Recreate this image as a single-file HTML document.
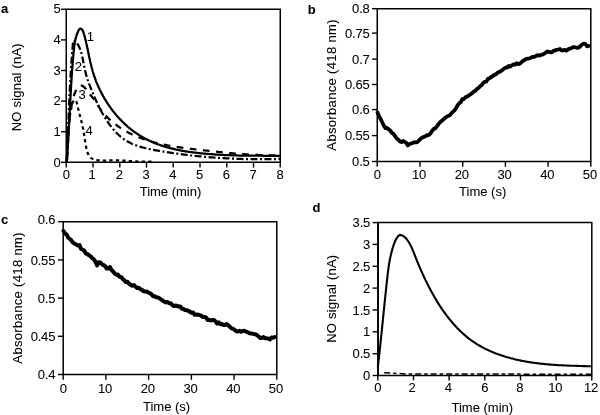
<!DOCTYPE html>
<html><head><meta charset="utf-8"><title>Figure</title>
<style>
html,body{margin:0;padding:0;background:#fff;}
svg{display:block;}
svg text{font-family:"Liberation Sans",sans-serif;font-size:13px;fill:#000;stroke:#000;stroke-width:0.07px;}
svg text.t{letter-spacing:-0.2px;}
</style></head>
<body>
<svg width="600" height="415" viewBox="0 0 600 415">
<rect width="600" height="415" fill="#fff"/>
<path d="M66.25 9.25 H280.25 V162.3 H66.25 Z" fill="none" stroke="#000" stroke-width="1.5"/>
<path d="M66.2 162.3 v5.3" stroke="#000" stroke-width="1.4"/>
<text x="66.2" y="178.8" text-anchor="middle" class="t">0</text>
<path d="M93.0 162.3 v5.3" stroke="#000" stroke-width="1.4"/>
<text x="92.1" y="178.8" text-anchor="middle" class="t">1</text>
<path d="M119.8 162.3 v5.3" stroke="#000" stroke-width="1.4"/>
<text x="119.3" y="178.8" text-anchor="middle" class="t">2</text>
<path d="M146.5 162.3 v5.3" stroke="#000" stroke-width="1.4"/>
<text x="146.1" y="178.8" text-anchor="middle" class="t">3</text>
<path d="M173.2 162.3 v5.3" stroke="#000" stroke-width="1.4"/>
<text x="172.8" y="178.8" text-anchor="middle" class="t">4</text>
<path d="M200.0 162.3 v5.3" stroke="#000" stroke-width="1.4"/>
<text x="199.6" y="178.8" text-anchor="middle" class="t">5</text>
<path d="M226.8 162.3 v5.3" stroke="#000" stroke-width="1.4"/>
<text x="226.3" y="178.8" text-anchor="middle" class="t">6</text>
<path d="M253.5 162.3 v5.3" stroke="#000" stroke-width="1.4"/>
<text x="253.1" y="178.8" text-anchor="middle" class="t">7</text>
<path d="M280.2 162.3 v5.3" stroke="#000" stroke-width="1.4"/>
<text x="279.9" y="178.8" text-anchor="middle" class="t">8</text>
<path d="M66.25 162.3 h-5.2" stroke="#000" stroke-width="1.4"/>
<text x="60.6" y="166.5" text-anchor="end" class="t">0</text>
<path d="M66.25 131.7 h-5.2" stroke="#000" stroke-width="1.4"/>
<text x="60.6" y="135.9" text-anchor="end" class="t">1</text>
<path d="M66.25 101.1 h-5.2" stroke="#000" stroke-width="1.4"/>
<text x="60.6" y="105.3" text-anchor="end" class="t">2</text>
<path d="M66.25 70.5 h-5.2" stroke="#000" stroke-width="1.4"/>
<text x="60.6" y="74.7" text-anchor="end" class="t">3</text>
<path d="M66.25 39.9 h-5.2" stroke="#000" stroke-width="1.4"/>
<text x="60.6" y="44.1" text-anchor="end" class="t">4</text>
<path d="M66.25 9.2 h-5.2" stroke="#000" stroke-width="1.4"/>
<text x="60.6" y="13.4" text-anchor="end" class="t">5</text>
<text x="170.5" y="196.3" text-anchor="middle" font-size="13" letter-spacing="0">Time (min)</text>
<text transform="translate(20.7 87.2) rotate(-90)" text-anchor="middle" font-size="13" letter-spacing="0.2">NO signal (nA)</text>
<path d="M66.8 161.5 L66.8 160.7 L66.9 159.9 L67.0 159.1 L67.0 158.3 L67.1 157.5 L67.1 156.6 L67.2 155.8 L67.3 155.0 L67.3 154.2 L67.4 153.4 L67.4 152.6 L67.5 151.8 L67.5 151.0 L67.6 150.2 L67.6 149.4 L67.7 148.6 L67.7 147.7 L67.8 146.9 L67.8 146.1 L67.9 145.3 L67.9 144.5 L68.0 143.7 L68.0 142.9 L68.1 142.1 L68.1 141.3 L68.2 140.5 L68.2 139.7 L68.3 138.8 L68.3 138.0 L68.4 137.2 L68.4 136.4 L68.5 135.6 L68.5 134.8 L68.6 134.0 L68.6 133.2 L68.6 132.4 L68.7 131.6 L68.7 130.7 L68.8 129.9 L68.8 129.1 L68.9 128.3 L68.9 127.5 L68.9 126.7 L69.0 125.9 L69.0 125.1 L69.1 124.3 L69.1 123.5 L69.2 122.6 L69.2 121.8 L69.2 121.0 L69.3 120.2 L69.3 119.4 L69.4 118.6 L69.4 117.8 L69.4 117.0 L69.5 116.2 L69.5 115.4 L69.6 114.5 L69.6 113.7 L69.7 112.9 L69.7 112.1 L69.7 111.3 L69.8 110.5 L69.8 109.7 L69.9 108.9 L69.9 108.1 L69.9 107.3 L70.0 106.5 L70.0 105.6 L70.1 104.8 L70.1 104.0 L70.1 103.2 L70.2 102.4 L70.2 101.6 L70.3 100.8 L70.3 100.0 L70.4 99.2 L70.4 98.4 L70.4 97.5 L70.5 96.7 L70.5 95.9 L70.6 95.1 L70.6 94.3 L70.7 93.5 L70.7 92.7 L70.8 91.9 L70.8 91.1 L70.9 90.3 L70.9 89.4 L70.9 88.6 L71.0 87.8 L71.0 87.0 L71.1 86.2 L71.1 85.4 L71.2 84.6 L71.2 83.8 L71.3 83.0 L71.3 82.2 L71.4 81.4 L71.4 80.5 L71.5 79.7 L71.5 78.9 L71.6 78.1 L71.6 77.3 L71.7 76.5 L71.8 75.7 L71.8 74.9 L71.9 74.1 L71.9 73.3 L72.0 72.5 L72.0 71.6 L72.1 70.8 L72.2 70.0 L72.2 69.2 L72.3 68.4 L72.3 67.6 L72.4 66.8 L72.5 66.0 L72.5 65.2 L72.6 64.4 L72.7 63.6 L72.7 62.8 L72.8 61.9 L72.8 61.1 L72.9 60.3 L73.0 59.5 L73.1 58.7 L73.1 57.9 L73.2 57.1 L73.3 56.3 L73.3 55.5 L73.4 54.7 L73.5 53.9 L73.6 53.1 L73.6 52.2 L73.7 51.4 L73.8 50.6 L73.9 49.8 L74.0 49.0 L74.0 48.2 L74.1 47.4 L74.2 46.6 L74.3 45.8 L74.4 45.0 L74.6 44.2 L74.7 43.4 L74.8 42.6 L75.0 41.8 L75.1 41.0 L75.3 40.2 L75.4 39.4 L75.6 38.6 L75.8 37.9 L76.0 37.1 L76.3 36.3 L76.5 35.5 L76.8 34.7 L77.1 34.0 L77.3 33.2 L77.7 32.4 L78.0 31.7 L78.3 30.9 L78.7 30.2 L79.1 29.5 L79.6 28.9 L80.2 28.6 L80.9 28.7 L81.7 29.1 L82.2 29.8 L82.7 30.5 L83.0 31.3 L83.3 32.0 L83.6 32.8 L83.8 33.6 L84.0 34.3 L84.3 35.1 L84.5 35.9 L84.7 36.6 L84.9 37.4 L85.1 38.2 L85.3 39.0 L85.5 39.8 L85.7 40.6 L85.9 41.4 L86.1 42.1 L86.2 42.9 L86.4 43.7 L86.6 44.5 L86.8 45.3 L86.9 46.1 L87.1 46.9 L87.3 47.7 L87.5 48.5 L87.6 49.3 L87.8 50.1 L88.0 50.9 L88.1 51.7 L88.3 52.5 L88.4 53.3 L88.6 54.1 L88.8 54.9 L88.9 55.7 L89.1 56.4 L89.3 57.2 L89.4 58.0 L89.6 58.8 L89.8 59.6 L90.0 60.4 L90.1 61.2 L90.3 62.0 L90.5 62.8 L90.7 63.5 L90.9 64.3 L91.1 65.1 L91.3 65.9 L91.5 66.7 L91.7 67.5 L91.9 68.2 L92.1 69.0 L92.3 69.8 L92.5 70.6 L92.7 71.3 L93.0 72.1 L93.2 72.9 L93.4 73.7 L93.7 74.4 L93.9 75.2 L94.2 76.0 L94.5 76.7 L94.7 77.5 L95.0 78.3 L95.3 79.0 L95.6 79.8 L95.8 80.6 L96.1 81.3 L96.4 82.1 L96.7 82.8 L97.1 83.6 L97.4 84.3 L97.7 85.1 L98.0 85.8 L98.3 86.6 L98.7 87.3 L99.0 88.0 L99.4 88.8 L99.7 89.5 L100.1 90.2 L100.4 91.0 L100.8 91.7 L101.2 92.4 L101.5 93.2 L101.9 93.9 L102.3 94.6 L102.7 95.3 L103.1 96.0 L103.5 96.7 L103.9 97.4 L104.3 98.2 L104.7 98.9 L105.1 99.6 L105.5 100.3 L106.0 100.9 L106.4 101.6 L106.8 102.3 L107.3 103.0 L107.7 103.7 L108.2 104.4 L108.6 105.0 L109.1 105.7 L109.6 106.4 L110.0 107.0 L110.5 107.7 L111.0 108.4 L111.5 109.0 L111.9 109.7 L112.4 110.3 L112.9 111.0 L113.4 111.6 L113.9 112.2 L114.4 112.9 L115.0 113.5 L115.5 114.1 L116.0 114.7 L116.5 115.4 L117.0 116.0 L117.6 116.6 L118.1 117.2 L118.7 117.8 L119.2 118.4 L119.8 119.0 L120.3 119.6 L120.9 120.2 L121.5 120.7 L122.0 121.3 L122.6 121.9 L123.2 122.4 L123.8 123.0 L124.3 123.6 L124.9 124.1 L125.5 124.7 L126.1 125.2 L126.7 125.7 L127.3 126.3 L127.9 126.8 L128.6 127.3 L129.2 127.8 L129.8 128.3 L130.4 128.9 L131.1 129.4 L131.7 129.9 L132.3 130.3 L133.0 130.8 L133.6 131.3 L134.3 131.8 L134.9 132.3 L135.6 132.7 L136.3 133.2 L136.9 133.6 L137.6 134.1 L138.3 134.5 L139.0 135.0 L139.6 135.4 L140.3 135.8 L141.0 136.2 L141.7 136.7 L142.4 137.1 L143.1 137.5 L143.8 137.9 L144.5 138.2 L145.2 138.6 L146.0 139.0 L146.7 139.4 L147.4 139.7 L148.1 140.1 L148.9 140.5 L149.6 140.8 L150.3 141.1 L151.1 141.5 L151.8 141.8 L152.6 142.1 L153.3 142.5 L154.1 142.8 L154.8 143.1 L155.6 143.4 L156.3 143.7 L157.1 144.0 L157.9 144.3 L158.6 144.5 L159.4 144.8 L160.2 145.1 L160.9 145.4 L161.7 145.6 L162.5 145.9 L163.3 146.1 L164.0 146.4 L164.8 146.6 L165.6 146.8 L166.4 147.1 L167.2 147.3 L167.9 147.5 L168.7 147.7 L169.5 147.9 L170.3 148.2 L171.1 148.4 L171.9 148.6 L172.7 148.7 L173.5 148.9 L174.3 149.1 L175.1 149.3 L175.9 149.5 L176.6 149.7 L177.4 149.8 L178.2 150.0 L179.0 150.1 L179.8 150.3 L180.6 150.5 L181.4 150.6 L182.2 150.8 L183.0 150.9 L183.8 151.0 L184.6 151.2 L185.4 151.3 L186.2 151.4 L187.0 151.6 L187.8 151.7 L188.6 151.8 L189.4 151.9 L190.2 152.0 L191.0 152.1 L191.8 152.2 L192.6 152.3 L193.4 152.4 L194.2 152.5 L195.0 152.6 L195.8 152.7 L196.6 152.8 L197.4 152.9 L198.2 153.0 L199.0 153.1 L199.8 153.2 L200.6 153.3 L201.4 153.3 L202.2 153.4 L203.0 153.5 L203.8 153.6 L204.6 153.7 L205.4 153.7 L206.2 153.8 L207.0 153.9 L207.8 153.9 L208.7 154.0 L209.5 154.1 L210.3 154.1 L211.1 154.2 L211.9 154.2 L212.7 154.3 L213.5 154.4 L214.3 154.4 L215.1 154.5 L215.9 154.5 L216.7 154.6 L217.5 154.6 L218.4 154.7 L219.2 154.7 L220.0 154.8 L220.8 154.8 L221.6 154.8 L222.4 154.9 L223.2 154.9 L224.0 155.0 L224.8 155.0 L225.7 155.0 L226.5 155.1 L227.3 155.1 L228.1 155.1 L228.9 155.2 L229.7 155.2 L230.5 155.2 L231.3 155.3 L232.2 155.3 L233.0 155.3 L233.8 155.3 L234.6 155.4 L235.4 155.4 L236.2 155.4 L237.0 155.4 L237.9 155.4 L238.7 155.5 L239.5 155.5 L240.3 155.5 L241.1 155.5 L241.9 155.5 L242.7 155.5 L243.5 155.6 L244.4 155.6 L245.2 155.6 L246.0 155.6 L246.8 155.6 L247.6 155.6 L248.4 155.6 L249.2 155.6 L250.0 155.7 L250.9 155.7 L251.7 155.7 L252.5 155.7 L253.3 155.7 L254.1 155.7 L254.9 155.7 L255.7 155.7 L256.5 155.7 L257.4 155.7 L258.2 155.7 L259.0 155.7 L259.8 155.7 L260.6 155.7 L261.4 155.7 L262.2 155.7 L263.0 155.7 L263.8 155.8 L264.7 155.8 L265.5 155.8 L266.3 155.8 L267.1 155.8 L267.9 155.8 L268.7 155.8 L269.5 155.8 L270.3 155.8 L271.1 155.8 L271.9 155.8 L272.7 155.8 L273.6 155.8 L274.4 155.8 L275.2 155.8 L276.0 155.8 L276.8 155.8 L277.6 155.8 L278.4 155.8 L279.2 155.8 L280.0 155.8" fill="none" stroke="#000" stroke-width="2.25" stroke-linejoin="round"/>
<path d="M66.6 161.5 L66.7 159.4 L66.8 157.4 L66.9 155.4 L67.0 153.3 L67.1 151.3 L67.2 149.2 L67.3 147.2 L67.4 145.1 L67.5 143.1 L67.6 141.0 L67.7 139.0 L67.7 136.9 L67.8 134.9 L67.9 132.8 L68.0 130.8 L68.1 128.7 L68.2 126.7 L68.3 124.6 L68.3 122.6 L68.4 120.5 L68.5 118.5 L68.6 116.4 L68.7 114.4 L68.8 112.3 L68.9 110.3 L69.0 108.2 L69.1 106.2 L69.1 104.1 L69.2 102.1 L69.3 100.0 L69.4 98.0 L69.5 95.9 L69.6 93.9 L69.7 91.8 L69.8 89.8 L69.9 87.7 L70.0 85.7 L70.1 83.6 L70.3 81.6 L70.4 79.5 L70.5 77.5 L70.6 75.4 L70.7 73.4 L70.8 71.3 L71.0 69.3 L71.1 67.2 L71.2 65.2 L71.4 63.1 L71.5 61.1 L71.7 59.1 L71.8 57.0 L72.0 55.0 L72.1 52.9 L72.3 50.9 L72.5 48.8 L72.6 46.8 L72.8 44.8 L73.0 42.7 L73.2 40.7 L74.6 41.0 L75.4 41.7 L76.2 42.4 L76.9 43.2 L77.5 44.0 L78.1 44.9 L78.6 45.8 L79.0 46.7 L79.5 47.7 L79.9 48.7 L80.3 49.7 L80.6 50.7 L81.0 51.7 L81.3 52.7 L81.6 53.8 L81.8 54.8 L82.1 55.9 L82.3 57.0 L82.6 58.0 L82.8 59.1 L83.0 60.2 L83.2 61.3 L83.4 62.4 L83.6 63.5 L83.8 64.6 L84.1 65.7 L84.3 66.8 L84.5 67.9 L84.7 69.0 L85.0 70.1 L85.2 71.2 L85.5 72.2 L85.8 73.3 L86.0 74.4 L86.3 75.4 L86.6 76.5 L87.0 77.5 L87.3 78.5 L87.6 79.6 L88.0 80.6 L88.3 81.6 L88.7 82.6 L89.0 83.7 L89.4 84.7 L89.8 85.7 L90.2 86.7 L90.6 87.7 L91.0 88.7 L91.4 89.7 L91.8 90.7 L92.2 91.7 L92.6 92.7 L93.0 93.7 L93.5 94.7 L93.9 95.7 L94.3 96.7 L94.8 97.7 L95.2 98.7 L95.7 99.7 L96.1 100.7 L96.6 101.7 L97.0 102.7 L97.5 103.7 L98.0 104.7 L98.5 105.7 L98.9 106.7 L99.4 107.7 L99.9 108.6 L100.4 109.6 L101.0 110.6 L101.5 111.6 L102.0 112.5 L102.5 113.5 L103.1 114.5 L103.6 115.4 L104.2 116.4 L104.8 117.3 L105.3 118.2 L105.9 119.2 L106.5 120.1 L107.1 121.0 L107.7 121.9 L108.4 122.9 L109.0 123.8 L109.6 124.6 L110.3 125.5 L111.0 126.4 L111.6 127.3 L112.3 128.1 L113.0 129.0 L113.7 129.8 L114.5 130.6 L115.2 131.4 L115.9 132.2 L116.7 133.0 L117.4 133.8 L118.2 134.5 L119.0 135.3 L119.8 136.0 L120.6 136.7 L121.5 137.4 L122.3 138.0 L123.2 138.7 L124.0 139.3 L124.9 139.9 L125.8 140.5 L126.7 141.0 L127.6 141.6 L128.6 142.1 L129.5 142.6 L130.5 143.1 L131.4 143.5 L132.4 144.0 L133.4 144.4 L134.4 144.8 L135.4 145.2 L136.4 145.5 L137.4 145.9 L138.5 146.2 L139.5 146.6 L140.6 146.9 L141.6 147.2 L142.7 147.5 L143.7 147.7 L144.8 148.0 L145.9 148.3 L147.0 148.5 L148.1 148.8 L149.1 149.0 L150.2 149.2 L151.3 149.4 L152.4 149.6 L153.5 149.8 L154.6 150.1 L155.7 150.3 L156.8 150.4 L157.9 150.6 L159.0 150.8 L160.1 151.0 L161.2 151.2 L162.3 151.4 L163.4 151.6 L164.5 151.7 L165.6 151.9 L166.7 152.1 L167.8 152.3 L168.9 152.4 L169.9 152.6 L171.0 152.8 L172.1 152.9 L173.2 153.1 L174.3 153.2 L175.4 153.4 L176.5 153.6 L177.6 153.7 L178.7 153.9 L179.7 154.0 L180.8 154.1 L181.9 154.3 L183.0 154.4 L184.1 154.6 L185.2 154.7 L186.3 154.8 L187.3 155.0 L188.4 155.1 L189.5 155.2 L190.6 155.4 L191.7 155.5 L192.8 155.6 L193.9 155.7 L194.9 155.8 L196.0 156.0 L197.1 156.1 L198.2 156.2 L199.3 156.3 L200.4 156.4 L201.4 156.5 L202.5 156.6 L203.6 156.7 L204.7 156.8 L205.8 156.9 L206.9 157.0 L207.9 157.1 L209.0 157.2 L210.1 157.3 L211.2 157.3 L212.3 157.4 L213.3 157.5 L214.4 157.6 L215.5 157.7 L216.6 157.7 L217.7 157.8 L218.8 157.9 L219.8 158.0 L220.9 158.0 L222.0 158.1 L223.1 158.1 L224.2 158.2 L225.3 158.3 L226.4 158.3 L227.4 158.4 L228.5 158.4 L229.6 158.5 L230.7 158.5 L231.8 158.6 L232.9 158.6 L234.0 158.7 L235.0 158.7 L236.1 158.8 L237.2 158.8 L238.3 158.8 L239.4 158.9 L240.5 158.9 L241.6 158.9 L242.7 159.0 L243.7 159.0 L244.8 159.0 L245.9 159.0 L247.0 159.1 L248.1 159.1 L249.2 159.1 L250.3 159.1 L251.4 159.1 L252.5 159.1 L253.6 159.2 L254.7 159.2 L255.8 159.2 L256.9 159.2 L258.0 159.2 L259.1 159.2 L260.2 159.2 L261.3 159.2 L262.4 159.2 L263.5 159.2 L264.6 159.2 L265.7 159.2 L266.8 159.1 L267.9 159.1 L269.0 159.1 L270.1 159.1 L271.2 159.1 L272.3 159.1 L273.4 159.0 L274.5 159.0 L275.6 159.0 L276.7 159.0 L277.8 158.9 L279.0 158.9 L280.1 158.9" fill="none" stroke="#000" stroke-width="2.25" stroke-dasharray="7 2.5 2 2.5"/>
<path d="M66.8 161.5 L66.9 160.5 L67.0 159.5 L67.0 158.4 L67.1 157.4 L67.2 156.4 L67.2 155.4 L67.3 154.3 L67.4 153.3 L67.4 152.3 L67.5 151.3 L67.5 150.3 L67.6 149.3 L67.6 148.3 L67.7 147.2 L67.7 146.2 L67.8 145.2 L67.8 144.2 L67.9 143.2 L67.9 142.2 L68.0 141.2 L68.0 140.2 L68.1 139.2 L68.1 138.2 L68.2 137.2 L68.2 136.2 L68.3 135.2 L68.3 134.2 L68.4 133.2 L68.4 132.2 L68.5 131.2 L68.6 130.2 L68.6 129.2 L68.7 128.2 L68.8 127.2 L68.9 126.2 L68.9 125.2 L69.0 124.2 L69.1 123.2 L69.2 122.2 L69.3 121.2 L69.4 120.2 L69.5 119.2 L69.6 118.2 L69.7 117.2 L69.9 116.2 L70.0 115.2 L70.1 114.2 L70.3 113.2 L70.4 112.2 L70.6 111.2 L70.7 110.2 L70.9 109.2 L71.1 108.2 L71.2 107.2 L71.4 106.2 L71.6 105.2 L71.8 104.2 L72.0 103.1 L72.3 102.1 L72.5 101.1 L72.7 100.1 L73.0 99.1 L73.2 98.0 L73.5 97.0 L73.8 96.0 L74.1 95.0 L74.4 94.0 L74.8 93.0 L75.2 92.1 L75.6 91.1 L76.1 90.2 L76.5 89.3 L77.1 88.4 L77.6 87.7 L78.2 87.0 L78.9 86.4 L79.5 86.0 L80.2 85.7 L80.9 85.6 L81.6 85.7 L82.4 85.9 L83.1 86.3 L83.8 86.8 L84.5 87.4 L85.2 88.2 L86.0 89.0 L86.7 89.9 L87.4 90.8 L88.1 91.7 L88.8 92.7 L89.5 93.6 L90.1 94.6 L90.8 95.4 L91.5 96.3 L92.1 97.1 L92.7 97.8 L93.4 98.6 L94.0 99.3 L94.5 100.0 L95.1 100.8 L95.6 101.6 L96.2 102.4 L96.7 103.2 L97.2 104.0 L97.7 104.9 L98.2 105.8 L98.7 106.6 L99.2 107.5 L99.8 108.3 L100.4 109.1 L100.9 109.9 L101.5 110.7 L102.2 111.5 L102.8 112.3 L103.4 113.1 L104.1 113.9 L104.8 114.6 L105.5 115.4 L106.2 116.1 L106.9 116.9 L107.6 117.6 L108.3 118.3 L109.1 119.0 L109.8 119.7 L110.6 120.4 L111.4 121.1 L112.1 121.7 L112.9 122.4 L113.7 123.0 L114.5 123.7 L115.3 124.3 L116.2 124.9 L117.0 125.5 L117.8 126.1 L118.7 126.7 L119.5 127.3 L120.4 127.9 L121.2 128.4 L122.1 128.9 L122.9 129.5 L123.8 130.0 L124.7 130.5 L125.5 131.0 L126.4 131.5 L127.3 132.0 L128.2 132.5 L129.1 132.9 L130.0 133.4 L130.9 133.8 L131.8 134.3 L132.7 134.7 L133.6 135.1 L134.5 135.5 L135.4 135.9 L136.3 136.3 L137.3 136.7 L138.2 137.1 L139.1 137.5 L140.0 137.8 L141.0 138.2 L141.9 138.5 L142.9 138.9 L143.8 139.2 L144.7 139.5 L145.7 139.8 L146.6 140.2 L147.6 140.5 L148.6 140.8 L149.5 141.0 L150.5 141.3 L151.4 141.6 L152.4 141.9 L153.4 142.1 L154.3 142.4 L155.3 142.7 L156.3 142.9 L157.3 143.1 L158.3 143.4 L159.2 143.6 L160.2 143.8 L161.2 144.1 L162.2 144.3 L163.2 144.5 L164.2 144.7 L165.2 144.9 L166.2 145.1 L167.2 145.3 L168.2 145.5 L169.2 145.7 L170.2 145.8 L171.2 146.0 L172.2 146.2 L173.2 146.3 L174.2 146.5 L175.2 146.7 L176.2 146.8 L177.2 147.0 L178.2 147.1 L179.2 147.3 L180.2 147.4 L181.2 147.6 L182.2 147.7 L183.2 147.8 L184.2 148.0 L185.3 148.1 L186.3 148.2 L187.3 148.4 L188.3 148.5 L189.3 148.6 L190.3 148.8 L191.3 148.9 L192.3 149.0 L193.3 149.1 L194.4 149.2 L195.4 149.4 L196.4 149.5 L197.4 149.6 L198.4 149.7 L199.4 149.8 L200.4 149.9 L201.4 150.1 L202.4 150.2 L203.4 150.3 L204.5 150.4 L205.5 150.5 L206.5 150.6 L207.5 150.7 L208.5 150.8 L209.5 151.0 L210.5 151.1 L211.5 151.2 L212.5 151.3 L213.5 151.4 L214.5 151.5 L215.5 151.6 L216.5 151.7 L217.5 151.8 L218.5 151.9 L219.5 152.0 L220.5 152.1 L221.5 152.2 L222.5 152.3 L223.5 152.4 L224.5 152.5 L225.5 152.6 L226.5 152.7 L227.5 152.8 L228.5 152.9 L229.5 153.0 L230.5 153.1 L231.5 153.2 L232.5 153.3 L233.5 153.4 L234.5 153.5 L235.5 153.5 L236.5 153.6 L237.5 153.7 L238.5 153.8 L239.5 153.9 L240.5 153.9 L241.5 154.0 L242.5 154.1 L243.5 154.2 L244.6 154.2 L245.6 154.3 L246.6 154.4 L247.6 154.4 L248.6 154.5 L249.6 154.5 L250.6 154.6 L251.6 154.7 L252.6 154.7 L253.6 154.8 L254.6 154.8 L255.6 154.9 L256.6 154.9 L257.6 154.9 L258.7 155.0 L259.7 155.0 L260.7 155.1 L261.7 155.1 L262.7 155.1 L263.7 155.1 L264.7 155.2 L265.7 155.2 L266.8 155.2 L267.8 155.2 L268.8 155.2 L269.8 155.3 L270.8 155.3 L271.9 155.3 L272.9 155.3 L273.9 155.3 L274.9 155.3 L276.0 155.3 L277.0 155.3 L278.0 155.3 L279.0 155.2 L280.1 155.2" fill="none" stroke="#000" stroke-width="2.25" stroke-dasharray="6.7 6.5"/>
<path d="M66.8 161.5 L66.9 160.9 L66.9 160.2 L67.0 159.6 L67.0 158.9 L67.1 158.3 L67.1 157.6 L67.2 157.0 L67.3 156.3 L67.3 155.7 L67.3 155.1 L67.4 154.4 L67.4 153.8 L67.5 153.2 L67.5 152.5 L67.5 151.9 L67.6 151.3 L67.6 150.6 L67.6 150.0 L67.7 149.4 L67.7 148.7 L67.7 148.1 L67.8 147.5 L67.8 146.9 L67.8 146.3 L67.8 145.6 L67.9 145.0 L67.9 144.4 L67.9 143.8 L67.9 143.2 L68.0 142.5 L68.0 141.9 L68.0 141.3 L68.0 140.7 L68.1 140.1 L68.1 139.5 L68.1 138.8 L68.1 138.2 L68.2 137.6 L68.2 137.0 L68.2 136.4 L68.2 135.8 L68.3 135.2 L68.3 134.5 L68.3 133.9 L68.3 133.3 L68.4 132.7 L68.4 132.1 L68.4 131.5 L68.5 130.8 L68.5 130.2 L68.5 129.6 L68.6 129.0 L68.6 128.4 L68.7 127.8 L68.7 127.1 L68.7 126.5 L68.8 125.9 L68.8 125.3 L68.9 124.7 L68.9 124.0 L69.0 123.4 L69.1 122.8 L69.1 122.2 L69.2 121.5 L69.2 120.9 L69.3 120.3 L69.4 119.7 L69.5 119.0 L69.5 118.4 L69.6 117.8 L69.7 117.1 L69.8 116.5 L69.9 115.9 L70.0 115.2 L70.1 114.6 L70.2 113.9 L70.3 113.3 L70.4 112.7 L70.5 112.0 L70.6 111.4 L70.7 110.7 L70.8 110.1 L71.0 109.4 L71.1 108.7 L71.2 108.1 L71.4 107.4 L71.5 106.8 L71.7 106.1 L71.8 105.4 L72.0 104.8 L72.1 104.1 L72.3 103.5 L72.5 102.9 L72.8 102.3 L73.0 101.8 L73.3 101.3 L73.6 100.9 L73.9 100.5 L74.3 100.2 L74.7 100.1 L75.1 100.0 L75.4 100.2 L75.7 100.4 L76.0 100.8 L76.2 101.3 L76.5 101.8 L76.7 102.5 L76.9 103.1 L77.0 103.8 L77.2 104.5 L77.4 105.2 L77.5 105.9 L77.7 106.6 L77.8 107.2 L78.0 107.9 L78.1 108.5 L78.3 109.1 L78.4 109.7 L78.6 110.3 L78.7 110.9 L78.9 111.5 L79.0 112.1 L79.2 112.7 L79.3 113.3 L79.5 113.9 L79.6 114.5 L79.8 115.1 L80.0 115.8 L80.1 116.4 L80.3 117.0 L80.5 117.6 L80.6 118.2 L80.8 118.9 L81.0 119.5 L81.1 120.1 L81.3 120.7 L81.4 121.3 L81.6 122.0 L81.7 122.6 L81.9 123.2 L82.0 123.8 L82.2 124.4 L82.3 125.0 L82.4 125.6 L82.6 126.2 L82.7 126.8 L82.8 127.4 L82.9 128.0 L83.1 128.6 L83.2 129.3 L83.3 129.9 L83.4 130.5 L83.5 131.1 L83.6 131.7 L83.7 132.3 L83.8 132.9 L83.9 133.5 L84.0 134.1 L84.1 134.7 L84.2 135.3 L84.3 135.9 L84.4 136.5 L84.5 137.1 L84.6 137.7 L84.7 138.4 L84.8 139.0 L84.9 139.6 L85.0 140.2 L85.1 140.9 L85.2 141.5 L85.3 142.1 L85.4 142.8 L85.5 143.4 L85.6 144.1 L85.7 144.8 L85.9 145.4 L86.0 146.1 L86.1 146.7 L86.2 147.4 L86.3 148.1 L86.5 148.7 L86.6 149.4 L86.8 150.0 L87.0 150.6 L87.1 151.3 L87.3 151.9 L87.5 152.5 L87.7 153.1 L88.0 153.6 L88.2 154.2 L88.5 154.7 L88.8 155.2 L89.1 155.7 L89.4 156.2 L89.7 156.6 L90.1 157.0 L90.5 157.4 L90.9 157.8 L91.3 158.1 L91.8 158.4 L92.3 158.7 L92.8 158.9 L93.3 159.2 L93.8 159.4 L94.3 159.6 L94.9 159.7 L95.5 159.9 L96.1 160.0 L96.7 160.1 L97.3 160.2 L97.9 160.3 L98.5 160.4 L99.2 160.4 L99.8 160.5 L100.5 160.5 L101.2 160.5 L101.8 160.6 L102.5 160.6 L103.2 160.6 L103.9 160.5 L104.6 160.5 L105.3 160.5 L106.0 160.5 L106.7 160.5 L107.4 160.4 L108.0 160.4 L108.7 160.4 L109.4 160.4 L110.1 160.3 L110.8 160.3 L111.4 160.3 L112.1 160.3 L112.8 160.3 L113.4 160.3 L114.1 160.3 L114.7 160.3 L115.4 160.3 L116.0 160.3 L116.7 160.3 L117.3 160.3 L117.9 160.3 L118.6 160.4 L119.2 160.4 L119.8 160.4 L120.4 160.4 L121.0 160.5 L121.7 160.5 L122.3 160.5 L122.9 160.5 L123.5 160.6 L124.1 160.6 L124.7 160.6 L125.3 160.7 L125.9 160.7 L126.5 160.8 L127.1 160.8 L127.7 160.8 L128.3 160.9 L128.9 160.9 L129.5 161.0 L130.1 161.0 L130.7 161.0 L131.3 161.1 L131.9 161.1 L132.5 161.2 L133.1 161.2 L133.7 161.2 L134.3 161.3 L134.9 161.3 L135.5 161.4 L136.1 161.4 L136.7 161.4 L137.3 161.5 L137.9 161.5 L138.5 161.5 L139.1 161.5 L139.7 161.6 L140.3 161.6 L140.9 161.6 L141.5 161.6 L142.2 161.7 L142.8 161.7 L143.4 161.7 L144.0 161.7 L144.7 161.7 L145.3 161.7 L146.0 161.7 L146.6 161.7 L147.3 161.7 L147.9 161.7 L148.6 161.7 L149.2 161.7 L149.9 161.7 L150.6 161.7 L151.2 161.6 L151.9 161.6 L152.6 161.6 L153.3 161.5 L154.0 161.5" fill="none" stroke="#000" stroke-width="2.25" stroke-dasharray="3.3 3.2"/>
<text x="86.7" y="40.5">1</text>
<text x="74.7" y="70.5">2</text>
<text x="78.4" y="99.2">3</text>
<text x="85.5" y="134.7">4</text>
<path d="M377.25 8.7 H590.8 V161.5 H377.25 Z" fill="none" stroke="#000" stroke-width="1.5"/>
<path d="M377.2 161.5 v5.3" stroke="#000" stroke-width="1.4"/>
<text x="377.2" y="179.4" text-anchor="middle" class="t">0</text>
<path d="M420.0 161.5 v5.3" stroke="#000" stroke-width="1.4"/>
<text x="419.1" y="179.4" text-anchor="middle" class="t">10</text>
<path d="M462.7 161.5 v5.3" stroke="#000" stroke-width="1.4"/>
<text x="461.8" y="179.4" text-anchor="middle" class="t">20</text>
<path d="M505.4 161.5 v5.3" stroke="#000" stroke-width="1.4"/>
<text x="504.5" y="179.4" text-anchor="middle" class="t">30</text>
<path d="M548.1 161.5 v5.3" stroke="#000" stroke-width="1.4"/>
<text x="547.2" y="179.4" text-anchor="middle" class="t">40</text>
<path d="M590.8 161.5 v5.3" stroke="#000" stroke-width="1.4"/>
<text x="589.9" y="179.4" text-anchor="middle" class="t">50</text>
<path d="M377.25 161.5 h-5.2" stroke="#000" stroke-width="1.4"/>
<text x="369.6" y="166.2" text-anchor="end" class="t">0.5</text>
<path d="M377.25 135.6 h-5.2" stroke="#000" stroke-width="1.4"/>
<text x="369.6" y="140.3" text-anchor="end" class="t">0.55</text>
<path d="M377.25 109.6 h-5.2" stroke="#000" stroke-width="1.4"/>
<text x="369.6" y="114.3" text-anchor="end" class="t">0.6</text>
<path d="M377.25 84.5 h-5.2" stroke="#000" stroke-width="1.4"/>
<text x="369.6" y="89.2" text-anchor="end" class="t">0.65</text>
<path d="M377.25 59.1 h-5.2" stroke="#000" stroke-width="1.4"/>
<text x="369.6" y="63.8" text-anchor="end" class="t">0.7</text>
<path d="M377.25 33.1 h-5.2" stroke="#000" stroke-width="1.4"/>
<text x="369.6" y="37.8" text-anchor="end" class="t">0.75</text>
<path d="M377.25 8.7 h-5.2" stroke="#000" stroke-width="1.4"/>
<text x="369.6" y="13.4" text-anchor="end" class="t">0.8</text>
<text x="482.7" y="196.3" text-anchor="middle" font-size="13" letter-spacing="0">Time (s)</text>
<text transform="translate(335.8 84.9) rotate(-90)" text-anchor="middle" font-size="13" letter-spacing="0.34">Absorbance (418 nm)</text>
<path d="M377.5 112.4 L379.1 116.4 L380.7 119.0 L382.3 122.5 L383.9 125.8 L385.5 128.2 L387.1 128.0 L388.7 129.4 L390.3 130.5 L391.9 133.1 L393.5 133.8 L395.1 136.1 L396.7 138.5 L398.3 139.6 L399.9 141.4 L401.5 142.1 L403.1 141.0 L404.7 141.9 L406.3 142.9 L407.9 145.4 L409.5 143.9 L411.1 143.6 L412.7 142.9 L414.3 142.1 L415.9 142.5 L417.5 142.0 L419.1 140.2 L420.7 138.8 L422.3 137.5 L423.9 136.9 L425.5 136.3 L427.1 135.1 L428.7 135.0 L430.3 133.6 L431.9 131.2 L433.5 129.1 L435.1 128.5 L436.7 126.6 L438.3 124.4 L439.9 122.4 L441.5 121.0 L443.1 119.8 L444.7 118.2 L446.3 117.0 L447.9 116.0 L449.5 115.5 L451.1 113.7 L452.7 111.9 L454.3 110.6 L455.9 108.5 L457.5 105.3 L459.1 103.4 L460.7 102.3 L462.3 99.2 L463.9 99.0 L465.5 97.3 L467.1 96.6 L468.7 95.6 L470.3 94.4 L471.9 93.4 L473.5 91.7 L475.1 91.0 L476.7 89.1 L478.3 88.2 L479.9 86.4 L481.5 85.3 L483.1 83.1 L484.7 81.8 L486.3 81.6 L487.9 78.9 L489.5 78.4 L491.1 77.0 L492.7 76.1 L494.3 74.9 L495.9 74.4 L497.5 72.7 L499.1 72.0 L500.7 71.3 L502.3 70.1 L503.9 68.8 L505.5 67.7 L507.1 67.5 L508.7 66.0 L510.3 66.6 L511.9 65.3 L513.5 64.4 L515.1 64.7 L516.7 63.2 L518.3 64.1 L519.9 63.6 L521.5 62.3 L523.1 60.6 L524.7 60.0 L526.3 58.8 L527.9 58.6 L529.5 58.4 L531.1 57.6 L532.7 56.8 L534.3 56.8 L535.9 55.9 L537.5 55.2 L539.1 55.6 L540.7 55.0 L542.3 54.7 L543.9 53.9 L545.5 52.7 L547.1 51.4 L548.7 51.8 L550.3 52.3 L551.9 52.3 L553.5 50.9 L555.1 50.4 L556.7 49.8 L558.3 49.5 L559.9 49.0 L561.5 50.4 L563.1 50.3 L564.7 49.8 L566.3 50.7 L567.9 49.5 L569.5 48.6 L571.1 48.4 L572.7 47.1 L574.3 47.2 L575.9 47.5 L577.5 47.9 L579.1 47.4 L580.7 45.8 L582.3 44.4 L583.9 43.6 L585.5 44.1 L587.1 46.3 L588.7 46.0" fill="none" stroke="#000" stroke-width="3.8" stroke-linejoin="round" stroke-linecap="round"/>
<path d="M63.2 221.7 H276.8 V374.5 H63.2 Z" fill="none" stroke="#000" stroke-width="1.5"/>
<path d="M63.2 374.5 v5.3" stroke="#000" stroke-width="1.4"/>
<text x="63.2" y="392.5" text-anchor="middle" class="t">0</text>
<path d="M105.9 374.5 v5.3" stroke="#000" stroke-width="1.4"/>
<text x="105.0" y="392.5" text-anchor="middle" class="t">10</text>
<path d="M148.6 374.5 v5.3" stroke="#000" stroke-width="1.4"/>
<text x="147.7" y="392.5" text-anchor="middle" class="t">20</text>
<path d="M191.4 374.5 v5.3" stroke="#000" stroke-width="1.4"/>
<text x="190.5" y="392.5" text-anchor="middle" class="t">30</text>
<path d="M234.1 374.5 v5.3" stroke="#000" stroke-width="1.4"/>
<text x="233.2" y="392.5" text-anchor="middle" class="t">40</text>
<path d="M276.8 374.5 v5.3" stroke="#000" stroke-width="1.4"/>
<text x="275.9" y="392.5" text-anchor="middle" class="t">50</text>
<path d="M63.2 374.5 h-5.2" stroke="#000" stroke-width="1.4"/>
<text x="55.2" y="379.1" text-anchor="end" class="t">0.4</text>
<path d="M63.2 336.3 h-5.2" stroke="#000" stroke-width="1.4"/>
<text x="55.2" y="340.9" text-anchor="end" class="t">0.45</text>
<path d="M63.2 298.1 h-5.2" stroke="#000" stroke-width="1.4"/>
<text x="55.2" y="302.7" text-anchor="end" class="t">0.5</text>
<path d="M63.2 259.9 h-5.2" stroke="#000" stroke-width="1.4"/>
<text x="55.2" y="264.5" text-anchor="end" class="t">0.55</text>
<path d="M63.2 221.7 h-5.2" stroke="#000" stroke-width="1.4"/>
<text x="55.2" y="224.3" text-anchor="end" class="t">0.6</text>
<text x="166.6" y="411.2" text-anchor="middle" font-size="13" letter-spacing="0">Time (s)</text>
<text transform="translate(21.9 297.9) rotate(-90)" text-anchor="middle" font-size="13" letter-spacing="0.34">Absorbance (418 nm)</text>
<path d="M63.5 231.0 L65.1 233.7 L66.7 234.5 L68.3 237.9 L69.9 238.9 L71.5 240.7 L73.1 242.6 L74.7 243.7 L76.3 244.6 L77.9 245.6 L79.5 245.0 L81.1 249.0 L82.7 249.6 L84.3 250.7 L85.9 253.6 L87.5 254.0 L89.1 255.4 L90.7 256.4 L92.3 258.2 L93.9 259.3 L95.5 261.7 L97.1 265.4 L98.7 262.2 L100.3 262.4 L101.9 264.3 L103.5 265.0 L105.1 266.1 L106.7 268.6 L108.3 268.6 L109.9 267.0 L111.5 270.0 L113.1 271.5 L114.7 273.5 L116.3 274.8 L117.9 274.6 L119.5 276.8 L121.1 276.9 L122.7 279.0 L124.3 280.3 L125.9 282.1 L127.5 281.8 L129.1 283.7 L130.7 284.7 L132.3 285.7 L133.9 285.0 L135.5 286.6 L137.1 288.1 L138.7 287.7 L140.3 289.1 L141.9 289.8 L143.5 291.2 L145.1 291.5 L146.7 291.5 L148.3 292.4 L149.9 293.3 L151.5 294.3 L153.1 296.2 L154.7 296.3 L156.3 297.3 L157.9 297.5 L159.5 298.3 L161.1 299.5 L162.7 300.7 L164.3 301.6 L165.9 302.4 L167.5 302.0 L169.1 303.2 L170.7 303.3 L172.3 305.0 L173.9 306.1 L175.5 305.5 L177.1 306.0 L178.7 306.5 L180.3 306.5 L181.9 308.7 L183.5 309.0 L185.1 310.1 L186.7 310.2 L188.3 310.8 L189.9 311.8 L191.5 312.8 L193.1 312.4 L194.7 314.8 L196.3 314.8 L197.9 314.5 L199.5 315.1 L201.1 315.5 L202.7 316.9 L204.3 316.9 L205.9 317.4 L207.5 320.0 L209.1 319.7 L210.7 320.5 L212.3 320.1 L213.9 319.9 L215.5 321.4 L217.1 323.6 L218.7 322.3 L220.3 324.2 L221.9 324.0 L223.5 325.1 L225.1 324.9 L226.7 324.1 L228.3 325.3 L229.9 326.8 L231.5 328.4 L233.1 328.8 L234.7 329.9 L236.3 331.3 L237.9 331.5 L239.5 330.7 L241.1 331.8 L242.7 330.9 L244.3 330.7 L245.9 331.6 L247.5 332.2 L249.1 333.1 L250.7 333.6 L252.3 333.6 L253.9 334.0 L255.5 334.3 L257.1 335.2 L258.7 336.5 L260.3 338.0 L261.9 338.1 L263.5 337.0 L265.1 338.2 L266.7 338.3 L268.3 338.6 L269.9 339.6 L271.5 337.6 L273.1 337.7 L274.7 337.1" fill="none" stroke="#000" stroke-width="4.0" stroke-linejoin="round" stroke-linecap="round"/>
<path d="M377.8 222.6 H591.8 V375.5 H377.8 Z" fill="none" stroke="#000" stroke-width="1.5"/>
<path d="M377.8 375.5 v4.9" stroke="#000" stroke-width="1.4"/>
<text x="377.8" y="392.3" text-anchor="middle" class="t">0</text>
<path d="M413.5 375.5 v4.9" stroke="#000" stroke-width="1.4"/>
<text x="412.0" y="392.3" text-anchor="middle" class="t">2</text>
<path d="M449.1 375.5 v4.9" stroke="#000" stroke-width="1.4"/>
<text x="448.3" y="392.3" text-anchor="middle" class="t">4</text>
<path d="M484.8 375.5 v4.9" stroke="#000" stroke-width="1.4"/>
<text x="484.8" y="392.3" text-anchor="middle" class="t">6</text>
<path d="M520.5 375.5 v4.9" stroke="#000" stroke-width="1.4"/>
<text x="519.7" y="392.3" text-anchor="middle" class="t">8</text>
<path d="M556.1 375.5 v4.9" stroke="#000" stroke-width="1.4"/>
<text x="555.3" y="392.3" text-anchor="middle" class="t">10</text>
<path d="M591.8 375.5 v4.9" stroke="#000" stroke-width="1.4"/>
<text x="591.0" y="392.3" text-anchor="middle" class="t">12</text>
<path d="M377.8 375.5 h-5.2" stroke="#000" stroke-width="1.4"/>
<text x="370.1" y="380.1" text-anchor="end" class="t">0</text>
<path d="M377.8 353.7 h-5.2" stroke="#000" stroke-width="1.4"/>
<text x="370.1" y="358.3" text-anchor="end" class="t">0.5</text>
<path d="M377.8 331.8 h-5.2" stroke="#000" stroke-width="1.4"/>
<text x="370.1" y="336.4" text-anchor="end" class="t">1</text>
<path d="M377.8 310.0 h-5.2" stroke="#000" stroke-width="1.4"/>
<text x="370.1" y="314.6" text-anchor="end" class="t">1.5</text>
<path d="M377.8 288.1 h-5.2" stroke="#000" stroke-width="1.4"/>
<text x="370.1" y="292.7" text-anchor="end" class="t">2</text>
<path d="M377.8 266.3 h-5.2" stroke="#000" stroke-width="1.4"/>
<text x="370.1" y="270.9" text-anchor="end" class="t">2.5</text>
<path d="M377.8 244.4 h-5.2" stroke="#000" stroke-width="1.4"/>
<text x="370.1" y="249.0" text-anchor="end" class="t">3</text>
<path d="M377.8 222.6 h-5.2" stroke="#000" stroke-width="1.4"/>
<text x="370.1" y="227.2" text-anchor="end" class="t">3.5</text>
<text x="482.3" y="411.5" text-anchor="middle" font-size="13" letter-spacing="0">Time (min)</text>
<text transform="translate(335.8 298.7) rotate(-90)" text-anchor="middle" font-size="13" letter-spacing="0.2">NO signal (nA)</text>
<path d="M378.5 222.6 V375.5" stroke="#000" stroke-width="1"/>
<path d="M377.8 367.3 L377.9 366.5 L378.0 365.7 L378.1 365.0 L378.2 364.2 L378.3 363.4 L378.3 362.6 L378.4 361.9 L378.5 361.1 L378.6 360.3 L378.7 359.5 L378.8 358.8 L378.9 358.0 L379.0 357.2 L379.0 356.4 L379.1 355.7 L379.2 354.9 L379.3 354.1 L379.4 353.3 L379.5 352.6 L379.5 351.8 L379.6 351.0 L379.7 350.2 L379.8 349.4 L379.9 348.7 L380.0 347.9 L380.1 347.1 L380.1 346.3 L380.2 345.6 L380.3 344.8 L380.4 344.0 L380.5 343.2 L380.5 342.5 L380.6 341.7 L380.7 340.9 L380.8 340.1 L380.9 339.4 L381.0 338.6 L381.0 337.8 L381.1 337.0 L381.2 336.2 L381.3 335.5 L381.4 334.7 L381.4 333.9 L381.5 333.1 L381.6 332.4 L381.7 331.6 L381.8 330.8 L381.8 330.0 L381.9 329.3 L382.0 328.5 L382.1 327.7 L382.2 326.9 L382.2 326.1 L382.3 325.4 L382.4 324.6 L382.5 323.8 L382.6 323.0 L382.6 322.3 L382.7 321.5 L382.8 320.7 L382.9 319.9 L382.9 319.2 L383.0 318.4 L383.1 317.6 L383.2 316.8 L383.3 316.0 L383.3 315.3 L383.4 314.5 L383.5 313.7 L383.6 312.9 L383.7 312.2 L383.7 311.4 L383.8 310.6 L383.9 309.8 L384.0 309.1 L384.1 308.3 L384.1 307.5 L384.2 306.7 L384.3 305.9 L384.4 305.2 L384.5 304.4 L384.5 303.6 L384.6 302.8 L384.7 302.1 L384.8 301.3 L384.9 300.5 L384.9 299.7 L385.0 299.0 L385.1 298.2 L385.2 297.4 L385.3 296.6 L385.3 295.9 L385.4 295.1 L385.5 294.3 L385.6 293.5 L385.7 292.7 L385.8 292.0 L385.8 291.2 L385.9 290.4 L386.0 289.6 L386.1 288.9 L386.2 288.1 L386.2 287.3 L386.3 286.5 L386.4 285.8 L386.5 285.0 L386.6 284.2 L386.7 283.4 L386.8 282.7 L386.8 281.9 L386.9 281.1 L387.0 280.3 L387.1 279.6 L387.2 278.8 L387.3 278.0 L387.4 277.2 L387.4 276.5 L387.5 275.7 L387.6 274.9 L387.7 274.1 L387.8 273.4 L387.9 272.6 L388.0 271.8 L388.1 271.0 L388.2 270.3 L388.3 269.5 L388.4 268.7 L388.5 268.0 L388.6 267.2 L388.7 266.4 L388.8 265.6 L389.0 264.9 L389.1 264.1 L389.2 263.3 L389.3 262.6 L389.5 261.8 L389.6 261.0 L389.7 260.3 L389.9 259.5 L390.0 258.7 L390.2 258.0 L390.3 257.2 L390.5 256.4 L390.7 255.7 L390.8 254.9 L391.0 254.2 L391.2 253.4 L391.4 252.6 L391.6 251.9 L391.8 251.1 L392.0 250.4 L392.2 249.6 L392.4 248.9 L392.6 248.1 L392.9 247.3 L393.1 246.6 L393.3 245.8 L393.6 245.1 L393.8 244.3 L394.1 243.6 L394.4 242.9 L394.7 242.1 L395.0 241.4 L395.3 240.7 L395.7 240.0 L396.0 239.3 L396.4 238.6 L396.9 237.9 L397.3 237.3 L397.8 236.7 L398.3 236.0 L398.9 235.5 L399.5 235.2 L400.1 235.0 L400.8 235.1 L401.5 235.2 L402.2 235.5 L402.9 235.9 L403.6 236.3 L404.2 236.7 L404.8 237.2 L405.4 237.8 L405.9 238.3 L406.5 238.9 L407.0 239.6 L407.4 240.2 L407.9 240.9 L408.4 241.5 L408.8 242.2 L409.2 242.9 L409.6 243.6 L410.0 244.3 L410.4 245.0 L410.7 245.7 L411.1 246.4 L411.4 247.1 L411.8 247.8 L412.1 248.5 L412.4 249.3 L412.7 250.0 L413.0 250.7 L413.3 251.4 L413.6 252.2 L413.9 252.9 L414.2 253.6 L414.4 254.4 L414.7 255.1 L415.0 255.8 L415.3 256.5 L415.6 257.3 L415.9 258.0 L416.2 258.7 L416.4 259.4 L416.7 260.2 L417.0 260.9 L417.3 261.6 L417.6 262.3 L417.9 263.0 L418.2 263.7 L418.5 264.5 L418.8 265.2 L419.1 265.9 L419.4 266.6 L419.7 267.3 L420.0 268.0 L420.3 268.7 L420.6 269.4 L420.9 270.1 L421.2 270.8 L421.6 271.5 L421.9 272.2 L422.2 272.9 L422.5 273.7 L422.8 274.4 L423.1 275.1 L423.5 275.8 L423.8 276.5 L424.1 277.2 L424.4 277.8 L424.8 278.5 L425.1 279.2 L425.4 279.9 L425.8 280.6 L426.1 281.3 L426.5 282.0 L426.8 282.7 L427.1 283.4 L427.5 284.1 L427.8 284.8 L428.2 285.5 L428.6 286.2 L428.9 286.9 L429.3 287.6 L429.6 288.3 L430.0 288.9 L430.4 289.6 L430.7 290.3 L431.1 291.0 L431.5 291.7 L431.9 292.4 L432.2 293.1 L432.6 293.8 L433.0 294.4 L433.4 295.1 L433.8 295.8 L434.2 296.5 L434.6 297.2 L435.0 297.9 L435.4 298.5 L435.8 299.2 L436.2 299.9 L436.6 300.6 L437.0 301.3 L437.4 301.9 L437.8 302.6 L438.2 303.3 L438.7 303.9 L439.1 304.6 L439.5 305.3 L439.9 305.9 L440.4 306.6 L440.8 307.3 L441.3 307.9 L441.7 308.6 L442.1 309.2 L442.6 309.9 L443.0 310.5 L443.5 311.2 L443.9 311.8 L444.4 312.5 L444.9 313.1 L445.3 313.7 L445.8 314.4 L446.3 315.0 L446.7 315.6 L447.2 316.3 L447.7 316.9 L448.2 317.5 L448.7 318.1 L449.2 318.8 L449.7 319.4 L450.2 320.0 L450.7 320.6 L451.2 321.2 L451.7 321.8 L452.2 322.4 L452.7 323.0 L453.2 323.6 L453.7 324.2 L454.2 324.8 L454.8 325.3 L455.3 325.9 L455.8 326.5 L456.3 327.1 L456.9 327.6 L457.4 328.2 L458.0 328.7 L458.5 329.3 L459.1 329.9 L459.6 330.4 L460.2 330.9 L460.7 331.5 L461.3 332.0 L461.9 332.5 L462.4 333.1 L463.0 333.6 L463.6 334.1 L464.2 334.6 L464.8 335.1 L465.3 335.6 L465.9 336.1 L466.5 336.6 L467.1 337.1 L467.7 337.6 L468.3 338.1 L468.9 338.6 L469.6 339.0 L470.2 339.5 L470.8 340.0 L471.4 340.4 L472.0 340.9 L472.7 341.3 L473.3 341.7 L473.9 342.2 L474.6 342.6 L475.2 343.0 L475.9 343.4 L476.5 343.9 L477.2 344.3 L477.8 344.7 L478.5 345.1 L479.2 345.5 L479.8 345.8 L480.5 346.2 L481.2 346.6 L481.8 347.0 L482.5 347.4 L483.2 347.7 L483.9 348.1 L484.6 348.4 L485.3 348.8 L486.0 349.1 L486.7 349.5 L487.4 349.8 L488.1 350.1 L488.8 350.4 L489.5 350.8 L490.2 351.1 L490.9 351.4 L491.6 351.7 L492.3 352.0 L493.0 352.3 L493.8 352.6 L494.5 352.9 L495.2 353.2 L495.9 353.5 L496.7 353.7 L497.4 354.0 L498.1 354.3 L498.9 354.5 L499.6 354.8 L500.3 355.1 L501.1 355.3 L501.8 355.6 L502.6 355.8 L503.3 356.0 L504.1 356.3 L504.8 356.5 L505.6 356.7 L506.3 357.0 L507.1 357.2 L507.8 357.4 L508.6 357.6 L509.4 357.8 L510.1 358.0 L510.9 358.2 L511.6 358.4 L512.4 358.6 L513.2 358.8 L513.9 359.0 L514.7 359.2 L515.5 359.4 L516.2 359.6 L517.0 359.7 L517.8 359.9 L518.5 360.1 L519.3 360.3 L520.1 360.4 L520.9 360.6 L521.6 360.7 L522.4 360.9 L523.2 361.0 L524.0 361.2 L524.7 361.3 L525.5 361.5 L526.3 361.6 L527.1 361.7 L527.8 361.9 L528.6 362.0 L529.4 362.1 L530.2 362.2 L530.9 362.4 L531.7 362.5 L532.5 362.6 L533.3 362.7 L534.1 362.8 L534.8 362.9 L535.6 363.0 L536.4 363.1 L537.2 363.2 L537.9 363.3 L538.7 363.4 L539.5 363.5 L540.3 363.6 L541.0 363.7 L541.8 363.8 L542.6 363.9 L543.4 363.9 L544.1 364.0 L544.9 364.1 L545.7 364.2 L546.5 364.2 L547.2 364.3 L548.0 364.4 L548.8 364.4 L549.5 364.5 L550.3 364.6 L551.1 364.6 L551.9 364.7 L552.6 364.8 L553.4 364.8 L554.2 364.9 L555.0 364.9 L555.7 365.0 L556.5 365.0 L557.3 365.1 L558.0 365.1 L558.8 365.2 L559.6 365.2 L560.4 365.2 L561.1 365.3 L561.9 365.3 L562.7 365.4 L563.5 365.4 L564.2 365.4 L565.0 365.5 L565.8 365.5 L566.6 365.5 L567.3 365.6 L568.1 365.6 L568.9 365.6 L569.7 365.7 L570.4 365.7 L571.2 365.7 L572.0 365.7 L572.8 365.8 L573.5 365.8 L574.3 365.8 L575.1 365.8 L575.9 365.9 L576.7 365.9 L577.4 365.9 L578.2 365.9 L579.0 366.0 L579.8 366.0 L580.6 366.0 L581.4 366.0 L582.1 366.0 L582.9 366.1 L583.7 366.1 L584.5 366.1 L585.3 366.1 L586.1 366.2 L586.9 366.2 L587.7 366.2 L588.5 366.2 L589.2 366.2 L590.0 366.3 L590.8 366.3" fill="none" stroke="#000" stroke-width="2.1"/>
<path d="M384.2 372.7 C392 373 400 373.7 408 374 L591 374.2" fill="none" stroke="#000" stroke-width="1.5" stroke-dasharray="6 3 3.5 3"/>
<text x="1" y="13.2" font-weight="bold" font-size="11.5" fill="#000" stroke="#000" stroke-width="0.35">a</text>
<text x="307.8" y="13.6" font-weight="bold" font-size="11.5" fill="#000" stroke="#000" stroke-width="0.35">b</text>
<text x="1" y="223.8" font-weight="bold" font-size="11.5" fill="#000" stroke="#000" stroke-width="0.35">c</text>
<text x="312.6" y="212.1" font-weight="bold" font-size="11.5" fill="#000" stroke="#000" stroke-width="0.35">d</text>
</svg>
</body></html>
